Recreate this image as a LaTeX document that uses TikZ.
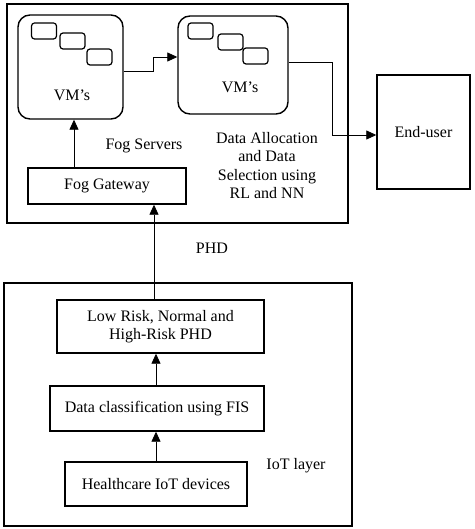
\documentclass[tikz,border=0pt]{standalone}
\usepackage{fontspec}
\setmainfont{Liberation Serif}
\usetikzlibrary{arrows.meta}
\begin{document}
\begin{tikzpicture}[x=1pt,y=-1pt,
  every node/.style={font=\fontsize{16}{18.5}\selectfont, inner sep=0pt},
  outerbox/.style={draw, line width=1.8pt},
  plainbox/.style={draw, line width=1.4pt, align=center},
  vmbox/.style={draw, line width=1.4pt, rounded corners=12pt},
  mini/.style={draw, line width=1.2pt, rounded corners=3pt, minimum width=25pt, minimum height=16pt},
  lbl/.style={align=center},
  arr/.style={line width=0.8pt, -{Triangle[length=10pt,width=9pt]}}]
\useasboundingbox (0,0) rectangle (474,529);
% outer boxes
\node[outerbox, minimum width=341pt, minimum height=219pt] (fog) at (177.5,113.5) {};
\node[outerbox, minimum width=348pt, minimum height=243pt] (iot) at (178,404.5) {};
% VM boxes
\node[vmbox, minimum width=105pt, minimum height=104pt] (vm1) at (70.5,67) {};
\node[mini] (m11) at (44,31) {};
\node[mini] (m12) at (72.5,41) {};
\node[mini] (m13) at (99.5,57) {};
\node (vm1t) at (72,95) {VM’s};
\node[vmbox, minimum width=110pt, minimum height=98pt] (vm2) at (233,65) {};
\node[mini] (m21) at (200.5,31) {};
\node[mini] (m22) at (230.5,42) {};
\node[mini] (m23) at (255.5,56) {};
\node (vm2t) at (240,87) {VM’s};
% end user
\node[plainbox, minimum width=93pt, minimum height=114pt] (eu) at (423.5,132) {End-user};
% fog gateway
\node[plainbox, minimum width=158pt, minimum height=36pt] (gw) at (107,186) {Fog Gateway};
\node[lbl] (fs) at (144,146) {Fog Servers};
\node[lbl] (da) at (267,165.5) {Data Allocation\\and Data\\Selection using\\RL and NN};
\node[lbl] (phd) at (212,248) {PHD};
% IoT layer
\node[plainbox, minimum width=207pt, minimum height=53pt] (lr) at (160.5,326.5) {Low Risk, Normal and\\High-Risk PHD};
\node[plainbox, minimum width=214pt, minimum height=45pt] (dc) at (157,408.5) {Data classification using FIS};
\node[plainbox, minimum width=182pt, minimum height=44pt] (hc) at (156,484) {Healthcare IoT devices};
\node[lbl] (il) at (296,466) {IoT layer};
% connectors
\draw[arr] ([yshift=-4pt]vm1.east) -- ++(30,0) |- ([yshift=8pt]vm2.west);
\draw[arr] ([yshift=3pt]vm2.east) -- ++(44,0) |- ([yshift=-3pt]eu.west);
\draw[arr] ([xshift=3.5pt]vm1.south |- gw.north) -- ([xshift=3.5pt]vm1.south);
\draw[arr] ([xshift=-6.5pt]lr.north) -- ([xshift=-6.5pt]lr.north |- gw.south);
\draw[arr] ([xshift=-1pt]dc.north) -- ([xshift=-1pt]dc.north |- lr.south);
\draw[arr] (hc.north) -- (hc.north |- dc.south);
\end{tikzpicture}
\end{document}
